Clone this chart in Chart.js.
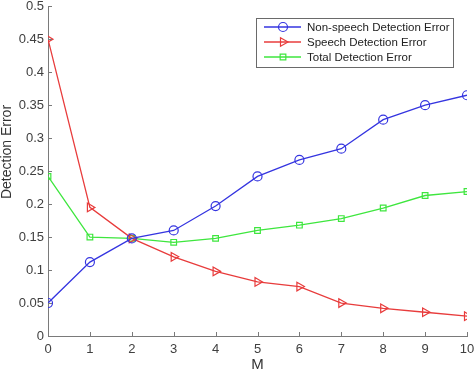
<!DOCTYPE html>
<html>
<head>
<meta charset="utf-8">
<script src="https://cdn.jsdelivr.net/npm/chart.js@4/dist/chart.umd.min.js"></script>
<style>
  html, body { margin: 0; padding: 0; background: #fff; }
  #wrap { width: 474px; height: 372px; }
</style>
</head>
<body>
<div id="wrap"><canvas id="chart" width="474" height="372"></canvas></div>
<script>
// values
const mValues = [0, 1, 2, 3, 4, 5, 6, 7, 8, 9, 10];
const nonSpeechErr = [0.050, 0.112, 0.148, 0.160, 0.197, 0.242, 0.267, 0.284, 0.328, 0.350, 0.365];
const speechErr = [0.450, 0.195, 0.148, 0.120, 0.098, 0.082, 0.075, 0.050, 0.042, 0.036, 0.030];
const totalErr = [0.242, 0.150, 0.148, 0.142, 0.148, 0.160, 0.168, 0.178, 0.194, 0.213, 0.219];
const seriesNames = ["Non-speech Detection Error", "Speech Detection Error", "Total Detection Error"];
const yTitle = "Detection Error";
const xTitle = "M";

const FONT = "'Liberation Sans', Arial, sans-serif";
const AXIS_COLOR = "#7a7a7a";
const TEXT_COLOR = "#404040";

function toPoints(arr) {
    return arr.map((v, i) => ({ x: mValues[i], y: v }));
}

function makeSet(label, data, color, style, radius, rotation) {
    return {
        label: label,
        data: toPoints(data),
        borderColor: color,
        backgroundColor: "rgba(0,0,0,0)",
        borderWidth: 1.3,
        pointStyle: style,
        pointRadius: radius,
        pointRotation: rotation || 0,
        pointBorderColor: color,
        pointBackgroundColor: "rgba(0,0,0,0)",
        pointBorderWidth: 1.2,
        tension: 0
    };
}

// inward tick marks like matlab, plus the y title (sits above centre in the original)
const innerTicks = {
    id: "innerTicks",
    afterDraw(chart) {
        const ctx = chart.ctx;
        const xs = chart.scales.x, ys = chart.scales.y;
        const area = chart.chartArea;
        ctx.save();
        ctx.strokeStyle = AXIS_COLOR;
        ctx.lineWidth = 1;
        ys.ticks.forEach(t => {
            const py = Math.round(ys.getPixelForValue(t.value)) + 0.5;
            ctx.beginPath();
            ctx.moveTo(area.left, py);
            ctx.lineTo(area.left + 4, py);
            ctx.stroke();
        });
        xs.ticks.forEach(t => {
            const px = Math.round(xs.getPixelForValue(t.value)) + 0.5;
            ctx.beginPath();
            ctx.moveTo(px, area.bottom);
            ctx.lineTo(px, area.bottom - 4);
            ctx.stroke();
        });

        ctx.translate(7, 152);
        ctx.rotate(-Math.PI / 2);
        ctx.font = "14px " + FONT;
        ctx.fillStyle = "#333";
        ctx.textAlign = "center";
        ctx.textBaseline = "middle";
        ctx.fillText(yTitle, 0, 0);
        ctx.restore();
    }
};

// boxed legend with line + marker samples
const boxLegend = {
    id: "boxLegend",
    afterDraw(chart) {
        const ctx = chart.ctx;
        const x0 = 256, y0 = 18, w = 197, h = 49;
        ctx.save();
        ctx.fillStyle = "#fff";
        ctx.fillRect(x0, y0, w, h);
        ctx.strokeStyle = "#6a6a6a";
        ctx.lineWidth = 1;
        ctx.strokeRect(x0 + 0.5, y0 + 0.5, w, h);
        ctx.textBaseline = "middle";
        chart.data.datasets.forEach((ds, i) => {
            const cy = y0 + 9 + i * 15;
            ctx.strokeStyle = ds.borderColor;
            ctx.lineWidth = 1.3;
            ctx.beginPath();
            ctx.moveTo(x0 + 8, cy);
            ctx.lineTo(x0 + 45, cy);
            ctx.stroke();
            ctx.fillStyle = "rgba(0,0,0,0)";
            ctx.lineWidth = 1.2;
            Chart.helpers.drawPoint(ctx, {
                pointStyle: ds.pointStyle,
                rotation: ds.pointRotation,
                radius: ds.pointRadius,
                borderWidth: 1.2
            }, x0 + 27, cy);
            ctx.font = "11.5px " + FONT;
            ctx.fillStyle = "#222";
            ctx.fillText(ds.label, x0 + 51, cy + 0.5);
        });
        ctx.restore();
    }
};

const ctx = document.getElementById("chart").getContext("2d");
new Chart(ctx, {
    type: "line",
    data: {
        datasets: [
            makeSet(seriesNames[0], nonSpeechErr, "#3535e0", "circle", 4.5),
            makeSet(seriesNames[1], speechErr, "#e83c3c", "triangle", 5, 90),
            makeSet(seriesNames[2], totalErr, "#3ee63e", "rect", 4)
        ]
    },
    options: {
        responsive: false,
        animation: false,
        layout: { padding: { top: 6, right: 7, left: 0, bottom: 0 } },
        plugins: {
            legend: { display: false },
            tooltip: { enabled: false }
        },
        scales: {
            x: {
                type: "linear",
                min: 0,
                max: 10,
                afterFit: s => { s.height = 36; s.paddingLeft = 0; s.paddingRight = 0; },
                grid: { display: false, drawTicks: false },
                border: { display: true, color: AXIS_COLOR, width: 1 },
                ticks: {
                    stepSize: 1,
                    padding: 6,
                    color: TEXT_COLOR,
                    font: { family: FONT, size: 13 }
                },
                title: {
                    display: true,
                    text: xTitle,
                    color: "#333",
                    padding: { top: 0, bottom: 0 },
                    font: { family: FONT, size: 15, lineHeight: 1 }
                }
            },
            y: {
                min: 0,
                max: 0.5,
                afterFit: s => { s.width = 48; s.paddingTop = 0; s.paddingBottom = 0; },
                grid: { display: false, drawTicks: false },
                border: { display: true, color: AXIS_COLOR, width: 1 },
                ticks: {
                    stepSize: 0.05,
                    padding: 4,
                    color: TEXT_COLOR,
                    font: { family: FONT, size: 13 },
                    callback: v => String(+v.toFixed(2))
                }
            }
        }
    },
    plugins: [innerTicks, boxLegend]
});
</script>
</body>
</html>
